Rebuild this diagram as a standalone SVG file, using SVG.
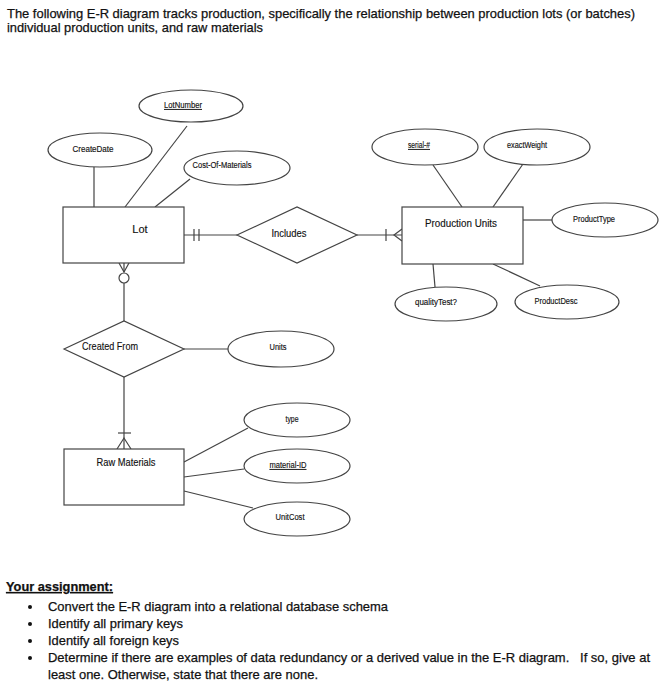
<svg xmlns="http://www.w3.org/2000/svg" width="663" height="685" viewBox="0 0 663 685">
<style>
  .t { font-family: "Liberation Sans", Arial, sans-serif; fill: #111; stroke: #111; stroke-width: 0.25; }
  .h { font-size: 13px; }
  .lbl { font-family: "Liberation Sans", Arial, sans-serif; fill: #111; text-anchor: middle; stroke: #111; stroke-width: 0.15; }
  .sm { font-size: 8.5px; }
  .md { font-size: 11px; }
  .shape { fill: #fff; stroke: #444; stroke-width: 1.2; }
  .ln { stroke: #444; stroke-width: 1.2; fill: none; }
</style>
<rect width="663" height="685" fill="#fff"/>

<g id="header">
  <text class="t h" x="7" y="18" textLength="628" lengthAdjust="spacingAndGlyphs">The following E-R diagram tracks production, specifically the relationship between production lots (or batches)</text>
  <text class="t h" x="7" y="32" textLength="256" lengthAdjust="spacingAndGlyphs">individual production units, and raw materials</text>
</g>

<g id="connectors">
  <line class="ln" x1="94" y1="167" x2="94" y2="207"/>
  <line class="ln" x1="187" y1="126" x2="125" y2="207"/>
  <line class="ln" x1="190" y1="179" x2="155" y2="207"/>
  <line class="ln" x1="184" y1="235" x2="237" y2="235"/>
  <line class="ln" x1="194" y1="229" x2="194" y2="241"/>
  <line class="ln" x1="199" y1="229" x2="199" y2="241"/>
  <line class="ln" x1="357" y1="235" x2="402" y2="235"/>
  <line class="ln" x1="386" y1="229" x2="386" y2="241"/>
  <polyline class="ln" points="402,229 394,235 402,241"/>
  <line class="ln" x1="433" y1="165" x2="462" y2="207"/>
  <line class="ln" x1="523" y1="164" x2="493" y2="207"/>
  <line class="ln" x1="523" y1="220" x2="552" y2="220"/>
  <line class="ln" x1="433" y1="264" x2="435" y2="287"/>
  <line class="ln" x1="493" y1="264" x2="540" y2="286"/>
  <polyline class="ln" points="119,263 124,272 129,263"/>
  <line class="ln" x1="124" y1="263" x2="124" y2="272"/>
  <circle class="ln" cx="124" cy="278" r="5"/>
  <line class="ln" x1="124" y1="283" x2="124" y2="321"/>
  <line class="ln" x1="184" y1="349" x2="229" y2="349"/>
  <line class="ln" x1="124" y1="377" x2="124" y2="449"/>
  <line class="ln" x1="118" y1="433" x2="131" y2="433"/>
  <polyline class="ln" points="117,449 124,438 131,449"/>
  <line class="ln" x1="184" y1="462" x2="248" y2="428"/>
  <line class="ln" x1="184" y1="477" x2="244" y2="469"/>
  <line class="ln" x1="184" y1="491" x2="253" y2="508"/>
</g>

<g id="LotNumber">
  <ellipse class="shape" cx="191" cy="106" rx="52" ry="16"/>
  <text class="lbl sm" x="183" y="108" textLength="38" lengthAdjust="spacingAndGlyphs" text-decoration="underline">LotNumber</text>
</g>
<g id="CreateDate">
  <ellipse class="shape" cx="100" cy="150" rx="52" ry="17"/>
  <text class="lbl sm" x="93" y="152" textLength="41" lengthAdjust="spacingAndGlyphs">CreateDate</text>
</g>
<g id="CostOfMaterials">
  <ellipse class="shape" cx="237" cy="168" rx="53" ry="17"/>
  <text class="lbl sm" x="222" y="168" textLength="59" lengthAdjust="spacingAndGlyphs">Cost-Of-Materials</text>
</g>
<g id="Lot">
  <rect class="shape" x="63" y="207" width="121" height="56"/>
  <text class="lbl md" x="140" y="233">Lot</text>
</g>
<g id="Includes">
  <polygon class="shape" points="237,235 297,207 357,235 297,263"/>
  <text class="lbl md" x="289" y="237" textLength="35" lengthAdjust="spacingAndGlyphs">Includes</text>
</g>
<g id="ProductionUnits">
  <rect class="shape" x="402" y="207" width="121" height="57"/>
  <text class="lbl md" x="461" y="227" textLength="72" lengthAdjust="spacingAndGlyphs">Production Units</text>
</g>
<g id="serial">
  <ellipse class="shape" cx="425" cy="147" rx="53" ry="18"/>
  <text class="lbl sm" x="419" y="148" textLength="22" lengthAdjust="spacingAndGlyphs" text-decoration="underline">serial-#</text>
</g>
<g id="exactWeight">
  <ellipse class="shape" cx="537" cy="147" rx="53" ry="18"/>
  <text class="lbl sm" x="527" y="148" textLength="40" lengthAdjust="spacingAndGlyphs">exactWeight</text>
</g>
<g id="ProductType">
  <ellipse class="shape" cx="605" cy="220" rx="53" ry="17"/>
  <text class="lbl sm" x="594" y="222" textLength="42" lengthAdjust="spacingAndGlyphs">ProductType</text>
</g>
<g id="qualityTest">
  <ellipse class="shape" cx="446" cy="304" rx="51" ry="17"/>
  <text class="lbl sm" x="436" y="305" textLength="42" lengthAdjust="spacingAndGlyphs">qualityTest?</text>
</g>
<g id="ProductDesc">
  <ellipse class="shape" cx="567" cy="302" rx="52" ry="17"/>
  <text class="lbl sm" x="556" y="304" textLength="43" lengthAdjust="spacingAndGlyphs">ProductDesc</text>
</g>
<g id="CreatedFrom">
  <polygon class="shape" points="64,349 124,321 184,349 124,377"/>
  <text class="lbl md" x="110" y="350" textLength="56" lengthAdjust="spacingAndGlyphs">Created From</text>
</g>
<g id="Units">
  <ellipse class="shape" cx="281" cy="349" rx="53" ry="18"/>
  <text class="lbl sm" x="278" y="350" textLength="17" lengthAdjust="spacingAndGlyphs">Units</text>
</g>
<g id="RawMaterials">
  <rect class="shape" x="64" y="449" width="120" height="56"/>
  <text class="lbl md" x="126" y="466" textLength="59" lengthAdjust="spacingAndGlyphs">Raw Materials</text>
</g>
<g id="type">
  <ellipse class="shape" cx="297" cy="420" rx="53" ry="17"/>
  <text class="lbl sm" x="292" y="422" textLength="13" lengthAdjust="spacingAndGlyphs">type</text>
</g>
<g id="materialID">
  <ellipse class="shape" cx="297" cy="466" rx="53" ry="17"/>
  <text class="lbl sm" x="288" y="468" textLength="37" lengthAdjust="spacingAndGlyphs" text-decoration="underline">material-ID</text>
</g>
<g id="UnitCost">
  <ellipse class="shape" cx="297" cy="519" rx="53" ry="17"/>
  <text class="lbl sm" x="290" y="520" textLength="29" lengthAdjust="spacingAndGlyphs">UnitCost</text>
</g>

<g id="assignment">
  <text class="t h" x="6" y="591" font-weight="bold" text-decoration="underline" textLength="107" lengthAdjust="spacingAndGlyphs">Your assignment:</text>
  <circle cx="30" cy="607" r="2" fill="#111"/>
  <circle cx="30" cy="624" r="2" fill="#111"/>
  <circle cx="30" cy="641" r="2" fill="#111"/>
  <circle cx="30" cy="658" r="2" fill="#111"/>
  <text class="t h" x="48" y="611" textLength="340" lengthAdjust="spacingAndGlyphs">Convert the E-R diagram into a relational database schema</text>
  <text class="t h" x="48" y="628" textLength="135" lengthAdjust="spacingAndGlyphs">Identify all primary keys</text>
  <text class="t h" x="48" y="645" textLength="131" lengthAdjust="spacingAndGlyphs">Identify all foreign keys</text>
  <text class="t h" x="48" y="662" textLength="602" lengthAdjust="spacingAndGlyphs" xml:space="preserve">Determine if there are examples of data redundancy or a derived value in the E-R diagram.   If so, give at</text>
  <text class="t h" x="48" y="679" textLength="270" lengthAdjust="spacingAndGlyphs">least one. Otherwise, state that there are none.</text>
</g>
</svg>
